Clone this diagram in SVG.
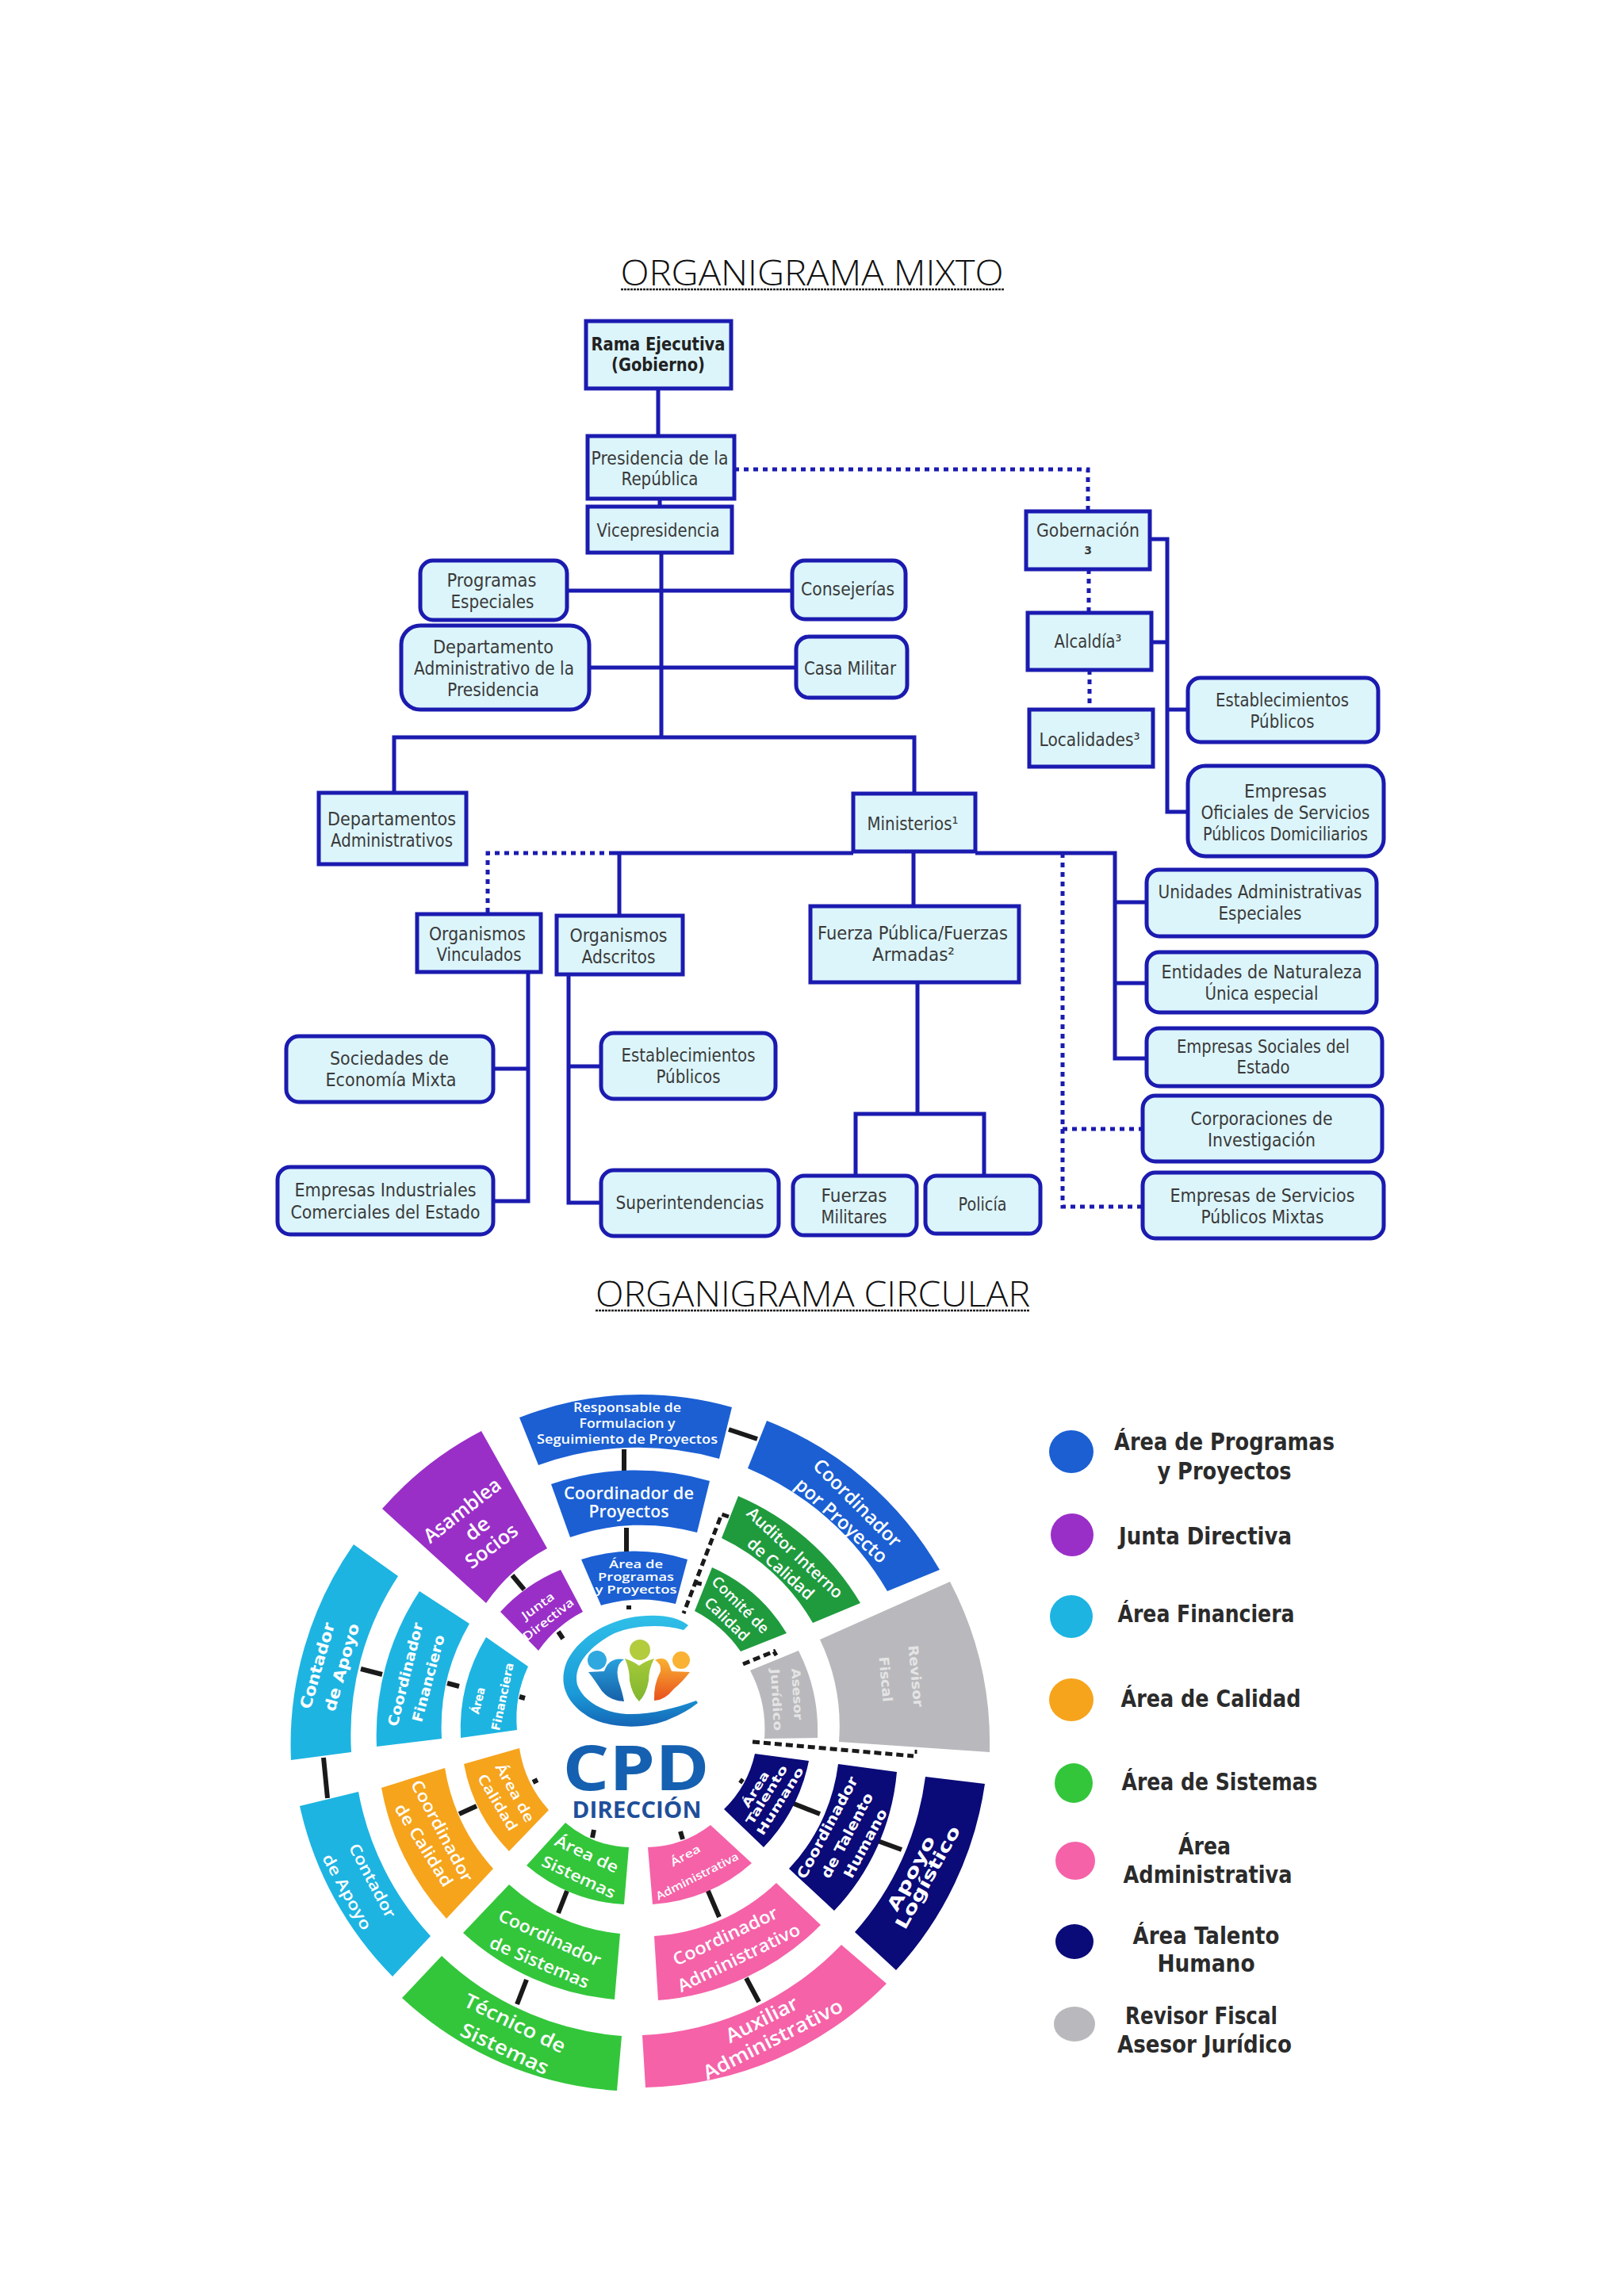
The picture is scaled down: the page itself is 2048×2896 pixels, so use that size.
<svg xmlns="http://www.w3.org/2000/svg" width="2048" height="2896" viewBox="0 0 2048 2896">
<defs>
<linearGradient id="ring" x1="0" y1="0" x2="0" y2="1"><stop offset="0" stop-color="#2fbfe8"/><stop offset="0.7" stop-color="#1a9ad8"/><stop offset="1" stop-color="#1565b5"/></linearGradient>
<linearGradient id="org" x1="0" y1="0" x2="0" y2="1"><stop offset="0" stop-color="#f9b233"/><stop offset="1" stop-color="#e8501c"/></linearGradient>
<linearGradient id="blu" x1="0" y1="0" x2="0" y2="1"><stop offset="0" stop-color="#2aa0dc"/><stop offset="1" stop-color="#1560a8"/></linearGradient>
<linearGradient id="grn" x1="0" y1="0" x2="0" y2="1"><stop offset="0" stop-color="#a6c93a"/><stop offset="1" stop-color="#7fb62e"/></linearGradient>
</defs>
<style>
.title{font-family:"Open Sans","Liberation Sans",sans-serif;font-weight:300;font-size:44px;fill:#111;text-anchor:middle}
.ul{stroke:#222;stroke-width:2.5;stroke-dasharray:3 1;fill:none}
.b{fill:#dcf5fb;stroke:#1b1bb0;stroke-width:5}
.t{font-family:"DejaVu Sans","Liberation Sans",sans-serif;font-size:23px;fill:#3a3a3a;text-anchor:middle}
.tb{font-weight:bold;fill:#222}
.c{fill:none;stroke:#1b1bb0;stroke-width:5}
.d{fill:none;stroke:#1b1bb0;stroke-width:5;stroke-dasharray:6 6}
.k{fill:none;stroke:#1a1a1a;stroke-width:6}
.kd{fill:none;stroke:#1a1a1a;stroke-width:5;stroke-dasharray:9 5}
.s{font-family:"Open Sans","Liberation Sans",sans-serif;font-weight:600;fill:#fff;text-anchor:middle;dominant-baseline:central}
.v{font-family:"DejaVu Sans","Liberation Sans",sans-serif;font-weight:700}
.l{font-family:"DejaVu Sans","Liberation Sans",sans-serif;font-weight:bold;font-size:30px;fill:#2b2b2b;text-anchor:middle}
.g{fill:#e4e4e4}
.blue{fill:#1b5fd3}.purple{fill:#9a2fc8}.cyan{fill:#1db4e2}.orange{fill:#f6a41c}.dgreen{fill:#1f9b3e}.green{fill:#33c63b}.pink{fill:#f562a8}.navy{fill:#0a0a78}.gray{fill:#b9b9bd}
</style>
<rect width="2048" height="2896" fill="#ffffff"/>
<g id="titles">
<text class="title" x="1024" y="360" textLength="483" lengthAdjust="spacingAndGlyphs">ORGANIGRAMA MIXTO</text>
<path class="ul" d="M783 365H1266"/>
<text class="title" x="1025" y="1648" textLength="548" lengthAdjust="spacingAndGlyphs">ORGANIGRAMA CIRCULAR</text>
<path class="ul" d="M751 1653H1299"/>
</g>
<g id="connectors-mixto">
<path class="c" d="M830 490V550M832 629V639M834 697V930M715 745H999M743 842H1004M497 1000V930H1153V1000"/>
<path class="d" d="M926 592H1372V645M1373 718V773M1374 845V895"/>
<path class="c" d="M1450 680H1472V1024H1498M1452 810H1472M1472 895H1498"/>
<path class="c" d="M1076 1076H774M1230 1076H1406V1335H1445M1406 1138H1445M1406 1240H1445M781 1076V1155M1152 1074V1142"/>
<path class="d" d="M774 1076H615V1153M1340 1076V1522H1441M1340 1424H1441"/>
<path class="c" d="M666 1226V1515H622M622 1348H666M717 1229V1517H758M717 1345H758M1157 1239V1405M1079 1483V1405H1241V1483"/>
</g>
<g id="n-rama"><rect class="b" x="739" y="405" width="183" height="85"/><text class="t tb" x="830" y="442" textLength="169" lengthAdjust="spacingAndGlyphs">Rama Ejecutiva</text><text class="t tb" x="830" y="468" textLength="118" lengthAdjust="spacingAndGlyphs">(Gobierno)</text></g>
<g id="n-presidencia"><rect class="b" x="741" y="550" width="185" height="79"/><text class="t" x="832" y="586" textLength="173" lengthAdjust="spacingAndGlyphs">Presidencia de la</text><text class="t" x="832" y="612" textLength="97" lengthAdjust="spacingAndGlyphs">República</text></g>
<g id="n-vice"><rect class="b" x="741" y="639" width="182" height="58"/><text class="t" x="830" y="677" textLength="155" lengthAdjust="spacingAndGlyphs">Vicepresidencia</text></g>
<g id="n-programas"><rect class="b" x="530" y="707" width="185" height="75" rx="16"/><text class="t" x="620" y="740" textLength="113" lengthAdjust="spacingAndGlyphs">Programas</text><text class="t" x="621" y="767" textLength="105" lengthAdjust="spacingAndGlyphs">Especiales</text></g>
<g id="n-consejerias"><rect class="b" x="999" y="707" width="143" height="74" rx="16"/><text class="t" x="1069" y="751" textLength="118" lengthAdjust="spacingAndGlyphs">Consejerías</text></g>
<g id="n-dapre"><rect class="b" x="506" y="789" width="237" height="106" rx="24"/><text class="t" x="622" y="824" textLength="152" lengthAdjust="spacingAndGlyphs">Departamento</text><text class="t" x="623" y="851" textLength="202" lengthAdjust="spacingAndGlyphs">Administrativo de la</text><text class="t" x="622" y="878" textLength="116" lengthAdjust="spacingAndGlyphs">Presidencia</text></g>
<g id="n-casa"><rect class="b" x="1004" y="803" width="140" height="77" rx="16"/><text class="t" x="1072" y="851" textLength="116" lengthAdjust="spacingAndGlyphs">Casa Militar</text></g>
<g id="n-gobernacion"><rect class="b" x="1294" y="645" width="156" height="73"/><text class="t" x="1372" y="677" textLength="130" lengthAdjust="spacingAndGlyphs">Gobernación</text><text class="t" x="1372" y="699" style="font-size:14px;font-weight:bold">3</text></g>
<g id="n-alcaldia"><rect class="b" x="1296" y="773" width="156" height="72"/><text class="t" x="1372" y="817" textLength="85" lengthAdjust="spacingAndGlyphs">Alcaldía³</text></g>
<g id="n-localidades"><rect class="b" x="1298" y="895" width="156" height="72"/><text class="t" x="1374" y="941" textLength="127" lengthAdjust="spacingAndGlyphs">Localidades³</text></g>
<g id="n-estab1"><rect class="b" x="1498" y="855" width="240" height="81" rx="16"/><text class="t" x="1617" y="891" textLength="168" lengthAdjust="spacingAndGlyphs">Establecimientos</text><text class="t" x="1617" y="918" textLength="81" lengthAdjust="spacingAndGlyphs">Públicos</text></g>
<g id="n-empresas-oficiales"><rect class="b" x="1498" y="966" width="247" height="114" rx="22"/><text class="t" x="1621" y="1006" textLength="104" lengthAdjust="spacingAndGlyphs">Empresas</text><text class="t" x="1621" y="1033" textLength="213" lengthAdjust="spacingAndGlyphs">Oficiales de Servicios</text><text class="t" x="1621" y="1060" textLength="208" lengthAdjust="spacingAndGlyphs">Públicos Domiciliarios</text></g>
<g id="n-deptos"><rect class="b" x="402" y="1000" width="186" height="90"/><text class="t" x="494" y="1041" textLength="162" lengthAdjust="spacingAndGlyphs">Departamentos</text><text class="t" x="494" y="1068" textLength="154" lengthAdjust="spacingAndGlyphs">Administrativos</text></g>
<g id="n-ministerios"><rect class="b" x="1076" y="1001" width="154" height="73"/><text class="t" x="1151" y="1047" textLength="115" lengthAdjust="spacingAndGlyphs">Ministerios¹</text></g>
<g id="n-vinculados"><rect class="b" x="526" y="1153" width="156" height="73"/><text class="t" x="602" y="1186" textLength="122" lengthAdjust="spacingAndGlyphs">Organismos</text><text class="t" x="604" y="1212" textLength="107" lengthAdjust="spacingAndGlyphs">Vinculados</text></g>
<g id="n-adscritos"><rect class="b" x="702" y="1155" width="159" height="74"/><text class="t" x="780" y="1188" textLength="123" lengthAdjust="spacingAndGlyphs">Organismos</text><text class="t" x="780" y="1215" textLength="93" lengthAdjust="spacingAndGlyphs">Adscritos</text></g>
<g id="n-fuerza"><rect class="b" x="1022" y="1143" width="263" height="96"/><text class="t" x="1151" y="1185" textLength="240" lengthAdjust="spacingAndGlyphs">Fuerza Pública/Fuerzas</text><text class="t" x="1152" y="1212" textLength="104" lengthAdjust="spacingAndGlyphs">Armadas²</text></g>
<g id="n-unidades"><rect class="b" x="1446" y="1097" width="290" height="84" rx="16"/><text class="t" x="1589" y="1133" textLength="257" lengthAdjust="spacingAndGlyphs">Unidades Administrativas</text><text class="t" x="1589" y="1160" textLength="105" lengthAdjust="spacingAndGlyphs">Especiales</text></g>
<g id="n-entidades"><rect class="b" x="1446" y="1201" width="290" height="76" rx="16"/><text class="t" x="1591" y="1234" textLength="253" lengthAdjust="spacingAndGlyphs">Entidades de Naturaleza</text><text class="t" x="1591" y="1261" textLength="143" lengthAdjust="spacingAndGlyphs">Única especial</text></g>
<g id="n-sociales"><rect class="b" x="1446" y="1297" width="297" height="73" rx="16"/><text class="t" x="1593" y="1328" textLength="218" lengthAdjust="spacingAndGlyphs">Empresas Sociales del</text><text class="t" x="1593" y="1354" textLength="67" lengthAdjust="spacingAndGlyphs">Estado</text></g>
<g id="n-corporaciones"><rect class="b" x="1441" y="1382" width="302" height="83" rx="16"/><text class="t" x="1591" y="1419" textLength="179" lengthAdjust="spacingAndGlyphs">Corporaciones de</text><text class="t" x="1591" y="1446" textLength="136" lengthAdjust="spacingAndGlyphs">Investigación</text></g>
<g id="n-servicios"><rect class="b" x="1441" y="1479" width="304" height="83" rx="16"/><text class="t" x="1592" y="1516" textLength="233" lengthAdjust="spacingAndGlyphs">Empresas de Servicios</text><text class="t" x="1592" y="1543" textLength="155" lengthAdjust="spacingAndGlyphs">Públicos Mixtas</text></g>
<g id="n-sociedades"><rect class="b" x="361" y="1307" width="261" height="83" rx="16"/><text class="t" x="491" y="1343" textLength="150" lengthAdjust="spacingAndGlyphs">Sociedades de</text><text class="t" x="493" y="1370" textLength="165" lengthAdjust="spacingAndGlyphs">Economía Mixta</text></g>
<g id="n-industriales"><rect class="b" x="350" y="1472" width="272" height="85" rx="16"/><text class="t" x="486" y="1509" textLength="229" lengthAdjust="spacingAndGlyphs">Empresas Industriales</text><text class="t" x="486" y="1537" textLength="239" lengthAdjust="spacingAndGlyphs">Comerciales del Estado</text></g>
<g id="n-estab2"><rect class="b" x="758" y="1303" width="220" height="83" rx="16"/><text class="t" x="868" y="1339" textLength="169" lengthAdjust="spacingAndGlyphs">Establecimientos</text><text class="t" x="868" y="1366" textLength="81" lengthAdjust="spacingAndGlyphs">Públicos</text></g>
<g id="n-super"><rect class="b" x="758" y="1476" width="224" height="83" rx="16"/><text class="t" x="870" y="1525" textLength="187" lengthAdjust="spacingAndGlyphs">Superintendencias</text></g>
<g id="n-militares"><rect class="b" x="1000" y="1483" width="156" height="75" rx="14"/><text class="t" x="1077" y="1516" textLength="83" lengthAdjust="spacingAndGlyphs">Fuerzas</text><text class="t" x="1077" y="1543" textLength="83" lengthAdjust="spacingAndGlyphs">Militares</text></g>
<g id="n-policia"><rect class="b" x="1167" y="1483" width="145" height="73" rx="14"/><text class="t" x="1239" y="1527" textLength="61" lengthAdjust="spacingAndGlyphs">Policía</text></g>

<g id="connectors-circular">
<path class="k" d="M919 1803L955 1815M787 1828V1862M790 1927V1960M793 2025V2030M646 1987L661 2005M704 2058L710 2067M455 2105L482 2112M564 2123L579 2127M655 2140L662 2142M408 2217L413 2268M579 2288L601 2278M672 2248L678 2245M749 2308L747 2318M715 2385L704 2413M664 2497L652 2528M858 2310L861 2320M892 2383L907 2418M941 2495L957 2525M933 2245L937 2248M1001 2275L1034 2288M1107 2322L1137 2333"/>
<path class="kd" d="M919 1913L910 1910L862 2035M876 1996L885 1998M937 2099L976 2083L979 2088M949 2197L1152 2215"/>
<path class="k" style="stroke-width:3" d="M1155 2207V2212"/>
</g>
<g id="seg-responsable"><path class="blue" d="M655 1788A420 420 0 0 1 923 1775L907 1840A370 370 0 0 0 679 1848Z"/>
<text class="s" font-size="16" x="791" y="1775" textLength="136" lengthAdjust="spacingAndGlyphs">Responsable de</text><text class="s" font-size="16" x="791" y="1795" textLength="121" lengthAdjust="spacingAndGlyphs">Formulacion y</text><text class="s" font-size="16" x="791" y="1815" textLength="228" lengthAdjust="spacingAndGlyphs">Seguimiento de Proyectos</text></g>
<g id="seg-coord-proyectos"><path class="blue" d="M695 1872A330 330 0 0 1 895 1868L879 1933A270 270 0 0 0 719 1939Z"/>
<text class="s" font-size="21" x="793" y="1883" textLength="164" lengthAdjust="spacingAndGlyphs">Coordinador de</text><text class="s" font-size="21" x="793" y="1906" textLength="101" lengthAdjust="spacingAndGlyphs">Proyectos</text></g>
<g id="seg-area-programas"><path class="blue" d="M733 1967A220 220 0 0 1 867 1967L852 2023A175 175 0 0 0 758 2025Z"/>
<text class="s" font-size="14" x="802" y="1972" textLength="68" lengthAdjust="spacingAndGlyphs">Área de</text><text class="s" font-size="14" x="802" y="1988" textLength="96" lengthAdjust="spacingAndGlyphs">Programas</text><text class="s" font-size="14" x="802" y="2004" textLength="103" lengthAdjust="spacingAndGlyphs">y Proyectos</text></g>
<g id="seg-coord-proyecto"><path class="blue" d="M967 1792A435 435 0 0 1 1185 1980L1119 2007A370 370 0 0 0 943 1852Z"/>
<text class="s" font-size="24" transform="translate(1082 1895) rotate(45)" textLength="146" lengthAdjust="spacingAndGlyphs">Coordinador</text><text class="s" font-size="24" transform="translate(1062 1917) rotate(42)" textLength="147" lengthAdjust="spacingAndGlyphs">por Proyecto</text></g>
<g id="seg-auditor"><path class="dgreen" d="M931 1887A330 330 0 0 1 1085 2022L1025 2047A265 265 0 0 0 910 1940Z"/>
<text class="s" font-size="21" transform="translate(1003 1958) rotate(43)" textLength="157" lengthAdjust="spacingAndGlyphs">Auditor Interno</text><text class="s" font-size="21" transform="translate(985 1978) rotate(42)" textLength="105" lengthAdjust="spacingAndGlyphs">de Calidad</text></g>
<g id="seg-comite"><path class="dgreen" d="M898 1977A210 210 0 0 1 992 2060L934 2083A160 160 0 0 0 876 2032Z"/>
<text class="s" font-size="19" transform="translate(934 2024) rotate(45)" textLength="93" lengthAdjust="spacingAndGlyphs">Comité de</text><text class="s" font-size="19" transform="translate(917 2042) rotate(44)" textLength="70" lengthAdjust="spacingAndGlyphs">Calidad</text></g>
<g id="seg-asamblea"><path class="purple" d="M482 1903A430 430 0 0 1 607 1805L690 1953A220 220 0 0 0 613 2022Z"/>
<text class="s" font-size="25" transform="translate(582 1904) rotate(-38)" textLength="116" lengthAdjust="spacingAndGlyphs">Asamblea</text><text class="s" font-size="25" transform="translate(601 1927) rotate(-38)" textLength="32" lengthAdjust="spacingAndGlyphs">de</text><text class="s" font-size="25" transform="translate(619 1949) rotate(-37)" textLength="76" lengthAdjust="spacingAndGlyphs">Socios</text></g>
<g id="seg-junta"><path class="purple" d="M631 2033A210 210 0 0 1 707 1980L735 2033A155 155 0 0 0 679 2082Z"/>
<text class="s" font-size="15" transform="translate(678 2025) rotate(-36)" textLength="47" lengthAdjust="spacingAndGlyphs">Junta</text><text class="s" font-size="15" transform="translate(691 2042) rotate(-38)" textLength="77" lengthAdjust="spacingAndGlyphs">Directiva</text></g>
<g id="seg-contador-1"><path class="cyan" d="M367 2220A440 440 0 0 1 446 1948L502 1988A365 365 0 0 0 443 2210Z"/>
<text class="s v" font-size="20" transform="translate(400 2101) rotate(-74)" textLength="112" lengthAdjust="spacingAndGlyphs">Contador</text><text class="s v" font-size="20" transform="translate(431 2103) rotate(-74)" textLength="114" lengthAdjust="spacingAndGlyphs">de Apoyo</text></g>
<g id="seg-coord-fin"><path class="cyan" d="M475 2203A330 330 0 0 1 529 2007L592 2048A260 260 0 0 0 557 2193Z"/>
<text class="s v" font-size="18" transform="translate(511 2112) rotate(-76)" textLength="134" lengthAdjust="spacingAndGlyphs">Coordinador</text><text class="s v" font-size="18" transform="translate(540 2117) rotate(-75)" textLength="113" lengthAdjust="spacingAndGlyphs">Financiero</text></g>
<g id="seg-area-fin"><path class="cyan" d="M581 2192A225 225 0 0 1 613 2065L666 2102A155 155 0 0 0 652 2182Z"/>
<text class="s v" font-size="15" transform="translate(603 2145) rotate(-76)" textLength="34" lengthAdjust="spacingAndGlyphs">Área</text><text class="s v" font-size="15" transform="translate(634 2140) rotate(-78)" textLength="87" lengthAdjust="spacingAndGlyphs">Financiera</text></g>
<g id="seg-revisor"><path class="gray" d="M1198 1995A440 440 0 0 1 1248 2210L1058 2197A255 255 0 0 0 1034 2068Z"/>
<text class="s v g" font-size="17" transform="translate(1155 2114) rotate(85)" textLength="78" lengthAdjust="spacingAndGlyphs">Revisor</text><text class="s v g" font-size="17" transform="translate(1117 2118) rotate(85)" textLength="57" lengthAdjust="spacingAndGlyphs">Fiscal</text></g>
<g id="seg-asesor"><path class="gray" d="M1007 2082A225 225 0 0 1 1031 2192L964 2193A160 160 0 0 0 946 2107Z"/>
<text class="s v g" font-size="15" transform="translate(1005 2137) rotate(87)" textLength="65" lengthAdjust="spacingAndGlyphs">Asesor</text><text class="s v g" font-size="15" transform="translate(979 2144) rotate(87)" textLength="78" lengthAdjust="spacingAndGlyphs">Jurídico</text></g>
<g id="seg-area-calidad"><path class="orange" d="M642 2335A215 215 0 0 1 585 2225L655 2205A150 150 0 0 0 692 2283Z"/>
<text class="s" font-size="18" transform="translate(650 2261) rotate(61)" textLength="82" lengthAdjust="spacingAndGlyphs">Área de</text><text class="s" font-size="18" transform="translate(628 2273) rotate(59)" textLength="80" lengthAdjust="spacingAndGlyphs">Calidad</text></g>
<g id="seg-coord-calidad"><path class="orange" d="M563 2420A330 330 0 0 1 481 2255L561 2230A250 250 0 0 0 622 2357Z"/>
<text class="s" font-size="21" transform="translate(558 2309) rotate(62)" textLength="142" lengthAdjust="spacingAndGlyphs">Coordinador</text><text class="s" font-size="21" transform="translate(535 2327) rotate(58)" textLength="119" lengthAdjust="spacingAndGlyphs">de Calidad</text></g>
<g id="seg-contador-2"><path class="cyan" d="M495 2493A440 440 0 0 1 378 2278L452 2260A365 365 0 0 0 543 2442Z"/>
<text class="s" font-size="20" transform="translate(470 2372) rotate(62)" textLength="103" lengthAdjust="spacingAndGlyphs">Contador</text><text class="s" font-size="20" transform="translate(438 2386) rotate(61)" textLength="106" lengthAdjust="spacingAndGlyphs">de Apoyo</text></g>
<g id="seg-area-sistemas"><path class="green" d="M787 2402A205 205 0 0 1 664 2353L713 2299A130 130 0 0 0 793 2330Z"/>
<text class="s" font-size="20" transform="translate(740 2338) rotate(25)" textLength="86" lengthAdjust="spacingAndGlyphs">Área de</text><text class="s" font-size="20" transform="translate(730 2367) rotate(25)" textLength="100" lengthAdjust="spacingAndGlyphs">Sistemas</text></g>
<g id="seg-coord-sistemas"><path class="green" d="M775 2522A325 325 0 0 1 584 2438L642 2377A245 245 0 0 0 782 2439Z"/>
<text class="s" font-size="22" transform="translate(694 2443) rotate(25)" textLength="140" lengthAdjust="spacingAndGlyphs">Coordinador</text><text class="s" font-size="22" transform="translate(681 2474) rotate(23)" textLength="134" lengthAdjust="spacingAndGlyphs">de Sistemas</text></g>
<g id="seg-tecnico"><path class="green" d="M778 2637A440 440 0 0 1 507 2520L557 2467A370 370 0 0 0 784 2568Z"/>
<text class="s" font-size="25" transform="translate(650 2551) rotate(26)" textLength="139" lengthAdjust="spacingAndGlyphs">Técnico de</text><text class="s" font-size="25" transform="translate(637 2583) rotate(25)" textLength="120" lengthAdjust="spacingAndGlyphs">Sistemas</text></g>
<g id="seg-area-adm"><path class="pink" d="M948 2350A205 205 0 0 1 823 2402L817 2330A135 135 0 0 0 896 2302Z"/>
<text class="s" font-size="14" transform="translate(864 2340) rotate(-29)" textLength="41" lengthAdjust="spacingAndGlyphs">Área</text><text class="s" font-size="14" transform="translate(879 2366) rotate(-27)" textLength="115" lengthAdjust="spacingAndGlyphs">Administrativa</text></g>
<g id="seg-coord-adm"><path class="pink" d="M1035 2428A325 325 0 0 1 830 2523L825 2442A245 245 0 0 0 979 2375Z"/>
<text class="s" font-size="22" transform="translate(914 2441) rotate(-25.5)" textLength="144" lengthAdjust="spacingAndGlyphs">Coordinador</text><text class="s" font-size="22" transform="translate(931 2468) rotate(-26)" textLength="169" lengthAdjust="spacingAndGlyphs">Administrativo</text></g>
<g id="seg-auxiliar"><path class="pink" d="M1118 2502A440 440 0 0 1 814 2633L810 2567A370 370 0 0 0 1061 2453Z"/>
<text class="s" font-size="25" transform="translate(960 2546) rotate(-27)" textLength="99" lengthAdjust="spacingAndGlyphs">Auxiliar</text><text class="s" font-size="25" transform="translate(974 2571) rotate(-27)" textLength="194" lengthAdjust="spacingAndGlyphs">Administrativo</text></g>
<g id="seg-area-talento"><path class="navy" d="M1020 2221A220 220 0 0 1 963 2330L913 2282A140 140 0 0 0 952 2212Z"/>
<text class="s v" font-size="15" transform="translate(953 2257) rotate(-58)" textLength="51" lengthAdjust="spacingAndGlyphs">Área</text><text class="s v" font-size="15" transform="translate(967 2264) rotate(-58)" textLength="85" lengthAdjust="spacingAndGlyphs">Talento</text><text class="s v" font-size="15" transform="translate(984 2272) rotate(-58)" textLength="98" lengthAdjust="spacingAndGlyphs">Humano</text></g>
<g id="seg-coord-talento"><path class="navy" d="M1131 2235A290 290 0 0 1 1052 2410L995 2357A235 235 0 0 0 1057 2225Z"/>
<text class="s v" font-size="18" transform="translate(1043 2305) rotate(-62)" textLength="143" lengthAdjust="spacingAndGlyphs">Coordinador</text><text class="s v" font-size="18" transform="translate(1068 2315) rotate(-62)" textLength="119" lengthAdjust="spacingAndGlyphs">de Talento</text><text class="s v" font-size="18" transform="translate(1091 2325) rotate(-62)" textLength="96" lengthAdjust="spacingAndGlyphs">Humano</text></g>
<g id="seg-apoyo"><path class="navy" d="M1242 2250A440 440 0 0 1 1130 2485L1078 2437A365 365 0 0 0 1167 2241Z"/>
<text class="s v" font-size="22" transform="translate(1149 2363) rotate(-62)" textLength="104" lengthAdjust="spacingAndGlyphs">Apoyo</text><text class="s v" font-size="22" transform="translate(1170 2368) rotate(-61)" textLength="145" lengthAdjust="spacingAndGlyphs">Logístico</text></g>

<g id="center-logo">
<path fill="url(#ring)" d="M868 2050Q850 2036 815 2038C770 2040 728 2065 714 2098C704 2125 715 2150 745 2167C775 2182 820 2180 845 2168Q865 2160 880 2148L878 2145C850 2155 820 2163 790 2162C760 2160 735 2145 728 2125C722 2100 745 2075 775 2060C800 2050 835 2048 862 2056Z"/>
<circle cx="753" cy="2094" r="12" fill="#2fa8e0"/><circle cx="807" cy="2081" r="13" fill="#b2cc3e"/><circle cx="859" cy="2094" r="11" fill="#f9b233"/>
<path fill="url(#blu)" d="M742 2109L762 2108Q768 2090 787 2093Q775 2100 780 2120Q785 2135 787 2146Q765 2145 755 2127Q747 2115 742 2109Z"/>
<path fill="url(#grn)" d="M788 2092Q798 2095 806 2101Q814 2095 825 2092Q818 2105 818 2120Q815 2137 806 2146Q797 2137 794 2120Q794 2105 788 2092Z"/>
<path fill="url(#org)" d="M826 2094Q838 2088 843 2098L847 2108L870 2109Q860 2122 850 2130Q838 2145 825 2145Q824 2125 833 2108Q834 2098 826 2094Z"/>
<text x="802" y="2258" font-family="'Open Sans','Liberation Sans',sans-serif" font-weight="700" font-size="78" fill="#1560b0" text-anchor="middle" textLength="185" lengthAdjust="spacingAndGlyphs">CPD</text>
<text x="803" y="2293" font-family="'Open Sans','Liberation Sans',sans-serif" font-weight="700" font-size="28" fill="#1f4f9a" text-anchor="middle" textLength="163" lengthAdjust="spacingAndGlyphs">DIRECCIÓN</text>
</g>
<g id="legend">
<ellipse class="blue" cx="1351" cy="1831" rx="28" ry="27"/><ellipse class="purple" cx="1352" cy="1936" rx="27" ry="27"/><ellipse class="cyan" cx="1351" cy="2039" rx="27" ry="27"/><ellipse class="orange" cx="1351" cy="2144" rx="28" ry="27"/><ellipse class="green" cx="1354" cy="2249" rx="24" ry="25"/><ellipse class="pink" cx="1356" cy="2347" rx="25" ry="24"/><ellipse class="navy" cx="1355" cy="2449" rx="24" ry="22"/><ellipse class="gray" cx="1355" cy="2553" rx="26" ry="22"/>
<text class="l" x="1544" y="1829" textLength="278" lengthAdjust="spacingAndGlyphs">Área de Programas</text><text class="l" x="1544" y="1866" textLength="169" lengthAdjust="spacingAndGlyphs">y Proyectos</text>
<text class="l" x="1520" y="1948" textLength="218" lengthAdjust="spacingAndGlyphs">Junta Directiva</text>
<text class="l" x="1521" y="2046" textLength="223" lengthAdjust="spacingAndGlyphs">Área Financiera</text>
<text class="l" x="1527" y="2153" textLength="227" lengthAdjust="spacingAndGlyphs">Área de Calidad</text>
<text class="l" x="1538" y="2258" textLength="247" lengthAdjust="spacingAndGlyphs">Área de Sistemas</text>
<text class="l" x="1519" y="2339" textLength="66" lengthAdjust="spacingAndGlyphs">Área</text><text class="l" x="1523" y="2375" textLength="213" lengthAdjust="spacingAndGlyphs">Administrativa</text>
<text class="l" x="1521" y="2452" textLength="185" lengthAdjust="spacingAndGlyphs">Área Talento</text><text class="l" x="1521" y="2487" textLength="123" lengthAdjust="spacingAndGlyphs">Humano</text>
<text class="l" x="1515" y="2553" textLength="192" lengthAdjust="spacingAndGlyphs">Revisor Fiscal</text><text class="l" x="1519" y="2589" textLength="220" lengthAdjust="spacingAndGlyphs">Asesor Jurídico</text>
</g>
</svg>
